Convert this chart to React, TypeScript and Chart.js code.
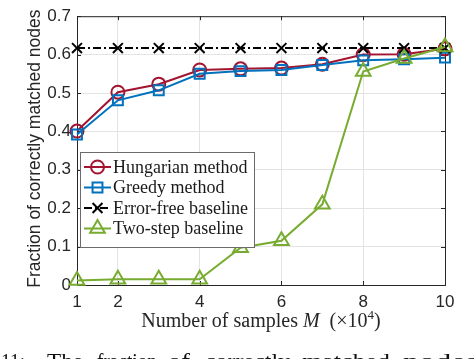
import { useEffect, useRef } from "react";
import { Chart, registerables } from "chart.js";

Chart.register(...registerables);

// ---- data ----
const sampleCounts = [1, 2, 3, 4, 5, 6, 7, 8, 9, 10];
const hungarian = [0.401, 0.502, 0.523, 0.560, 0.563, 0.565, 0.575, 0.600, 0.601, 0.615];
const greedy = [0.392, 0.481, 0.507, 0.550, 0.557, 0.560, 0.573, 0.585, 0.588, 0.592];
const errorFree = [0.617, 0.617, 0.617, 0.617, 0.617, 0.617, 0.617, 0.617, 0.617, 0.617];
const twoStep = [0.012, 0.015, 0.015, 0.015, 0.097, 0.115, 0.21, 0.556, 0.59, 0.62];
const xTickValues = [1, 2, 4, 6, 8, 10];
const yTickValues = [0, 0.1, 0.2, 0.3, 0.4, 0.5, 0.6, 0.7];
const seriesNames = ["Hungarian method", "Greedy method", "Error-free baseline", "Two-step baseline"];
const yTitle = "Fraction of correctly matched nodes";
const captionWords = ["11:", "The", "fraction", "of", "correctly", "matched", "nodes"];

const RED = "#A2142F";
const BLUE = "#0072BD";
const BLACK = "#000000";
const GREEN = "#77AC30";
const AXIS = "#262626";
const GRID = "#e3e3e3";

const styles = [
  { color: RED, marker: "circle", r: 6.5, dash: [] as number[] },
  { color: BLUE, marker: "rect", r: 7, dash: [] as number[] },
  { color: BLACK, marker: "crossRot", r: 7, dash: [8, 3, 2, 3] },
  { color: GREEN, marker: "triangle", r: 8.5, dash: [] as number[] },
];

function drawMarker(ctx: CanvasRenderingContext2D, style: string, x: number, y: number, r: number) {
  ctx.beginPath();
  if (style === "circle") {
    ctx.arc(x, y, r, 0, Math.PI * 2);
  } else if (style === "rect") {
    const s = Math.SQRT1_2 * r;
    ctx.rect(x - s, y - s, 2 * s, 2 * s);
  } else if (style === "triangle") {
    let a = 0;
    ctx.moveTo(x + Math.sin(a) * r, y - Math.cos(a) * r);
    a += (2 * Math.PI) / 3;
    ctx.lineTo(x + Math.sin(a) * r, y - Math.cos(a) * r);
    a += (2 * Math.PI) / 3;
    ctx.lineTo(x + Math.sin(a) * r, y - Math.cos(a) * r);
    ctx.closePath();
  } else if (style === "crossRot") {
    const o = Math.cos(Math.PI / 4) * r;
    ctx.moveTo(x - o, y - o);
    ctx.lineTo(x + o, y + o);
    ctx.moveTo(x + o, y - o);
    ctx.lineTo(x - o, y + o);
  }
  ctx.stroke();
}

const framePlugin = {
  id: "frame",
  beforeDatasetsDraw(chart: any) {
    const { ctx, chartArea: a, scales } = chart;
    ctx.save();
    ctx.strokeStyle = AXIS;
    ctx.lineWidth = 1;
    ctx.strokeRect(a.left + 0.5, a.top + 0.5, a.right - a.left, a.bottom - a.top);
    const tl = 4;
    ctx.beginPath();
    xTickValues.forEach((v) => {
      const x = Math.round(scales.x.getPixelForValue(v)) + 0.5;
      ctx.moveTo(x, a.bottom);
      ctx.lineTo(x, a.bottom - tl);
      ctx.moveTo(x, a.top);
      ctx.lineTo(x, a.top + tl);
    });
    yTickValues.forEach((v) => {
      const y = Math.round(scales.y.getPixelForValue(v)) + 0.5;
      ctx.moveTo(a.left, y);
      ctx.lineTo(a.left + tl, y);
      ctx.moveTo(a.right, y);
      ctx.lineTo(a.right - tl, y);
    });
    ctx.stroke();
    ctx.restore();
  },
  afterDraw(chart: any) {
    const { ctx, chartArea: a } = chart;
    ctx.save();
    // y title
    ctx.fillStyle = AXIS;
    ctx.font = '17.5px "Liberation Sans"';
    ctx.textAlign = "center";
    ctx.textBaseline = "middle";
    ctx.translate(35, (a.top + a.bottom) / 2 - 2);
    ctx.rotate(-Math.PI / 2);
    ctx.fillText(yTitle, 0, 0);
    ctx.restore();

    // x title with italic M and superscript 4
    ctx.save();
    ctx.fillStyle = AXIS;
    ctx.textBaseline = "alphabetic";
    ctx.textAlign = "left";
    const fN = '20px "Liberation Serif"';
    const fI = 'italic 20px "Liberation Serif"';
    const fS = '13px "Liberation Serif"';
    const parts: [string, string, number][] = [
      ["Number of samples ", fN, 0],
      ["M", fI, 0],
      ["  (×10", fN, 0],
      ["4", fS, -8],
      [")", fN, 0],
    ];
    let total = 0;
    parts.forEach(([t, f]) => {
      ctx.font = f;
      total += ctx.measureText(t).width;
    });
    let x = (a.left + a.right) / 2 - total / 2;
    parts.forEach(([t, f, dy]) => {
      ctx.font = f;
      ctx.fillText(t, x, 327 + dy);
      x += ctx.measureText(t).width;
    });
    ctx.restore();

    // legend
    ctx.save();
    const lx = 80.5, ly = 152.5, lw = 174, lh = 95;
    ctx.fillStyle = "#ffffff";
    ctx.fillRect(lx, ly, lw, lh);
    ctx.strokeStyle = "#6b6b6b";
    ctx.lineWidth = 1;
    ctx.strokeRect(lx, ly, lw, lh);
    const rowY = [167, 187.5, 208, 228.5];
    seriesNames.forEach((name, i) => {
      const s = styles[i];
      const y = rowY[i];
      ctx.strokeStyle = s.color;
      ctx.lineWidth = 2;
      ctx.setLineDash(s.dash);
      ctx.beginPath();
      ctx.moveTo(84, y);
      ctx.lineTo(111, y);
      ctx.stroke();
      ctx.setLineDash([]);
      drawMarker(ctx, s.marker, 97.5, y, s.r);
      ctx.fillStyle = "#1a1a1a";
      ctx.font = '18px "Liberation Serif"';
      ctx.textAlign = "left";
      ctx.textBaseline = "middle";
      ctx.fillText(name, 113, y + 1);
    });
    ctx.restore();

    // clipped caption line (each word fitted to its span)
    ctx.save();
    ctx.fillStyle = "#111";
    ctx.font = '22px "Liberation Serif"';
    ctx.textBaseline = "alphabetic";
    ctx.textAlign = "left";
    const spans: [number, number][] = [
      [1, 25], [47, 83], [97, 157], [168, 190], [205, 290], [302, 390], [403, 478],
    ];
    captionWords.forEach((w, i) => {
      const [x0, x1] = spans[i];
      const m = ctx.measureText(w).width;
      ctx.save();
      ctx.translate(x0, 368);
      ctx.scale((x1 - x0) / m, 1);
      ctx.fillText(w, 0, 0);
      ctx.restore();
    });
    ctx.restore();
  },
};

export default function App() {
  const ref = useRef<HTMLCanvasElement>(null);
  useEffect(() => {
    const series = [hungarian, greedy, errorFree, twoStep];
    const datasets = series.map((vals, i) => ({
      label: seriesNames[i],
      data: sampleCounts.map((x, j) => ({ x, y: vals[j] })),
      borderColor: styles[i].color,
      backgroundColor: "rgba(0,0,0,0)",
      borderWidth: 2,
      borderDash: styles[i].dash,
      pointStyle: styles[i].marker,
      pointRadius: styles[i].r,
      pointBorderWidth: 2,
      pointBorderColor: styles[i].color,
      pointBackgroundColor: "rgba(0,0,0,0)",
      tension: 0,
      clip: false as any,
      order: 3 - i,
    }));
    const tickFont = { family: '"Liberation Sans"', size: 17 };
    const chart = new Chart(ref.current!, {
      type: "line",
      data: { datasets },
      options: {
        animation: false,
        responsive: false,
        devicePixelRatio: 1,
        layout: { padding: { top: 5, right: 29, left: 0, bottom: 0 } },
        plugins: { legend: { display: false }, tooltip: { enabled: false } },
        scales: {
          x: {
            type: "linear",
            min: 1,
            max: 10,
            afterBuildTicks: (s: any) => {
              s.ticks = xTickValues.map((v) => ({ value: v }));
            },
            afterFit: (s: any) => {
              s.height = 74;
            },
            grid: { color: GRID, drawTicks: false },
            border: { display: false },
            ticks: {
              font: tickFont,
              color: AXIS,
              padding: 7,
              maxRotation: 0,
              autoSkip: false,
              callback: (v: any) => String(v),
            },
          },
          y: {
            type: "linear",
            min: 0,
            max: 0.7,
            afterBuildTicks: (s: any) => {
              s.ticks = yTickValues.map((v) => ({ value: v }));
            },
            afterFit: (s: any) => {
              s.width = 77;
            },
            grid: { color: GRID, drawTicks: false },
            border: { display: false },
            ticks: {
              font: tickFont,
              color: AXIS,
              padding: 6,
              autoSkip: false,
              callback: (v: any) => (Number(v) === 0 ? "0" : Number(v).toFixed(1)),
            },
          },
        },
      },
      plugins: [framePlugin],
    });
    return () => chart.destroy();
  }, []);
  return (
    <div style={{ position: "absolute", left: 0, top: 0, width: 474, height: 359, background: "#fff" }}>
      <canvas ref={ref} width={474} height={359} style={{ display: "block" }} />
    </div>
  );
}
